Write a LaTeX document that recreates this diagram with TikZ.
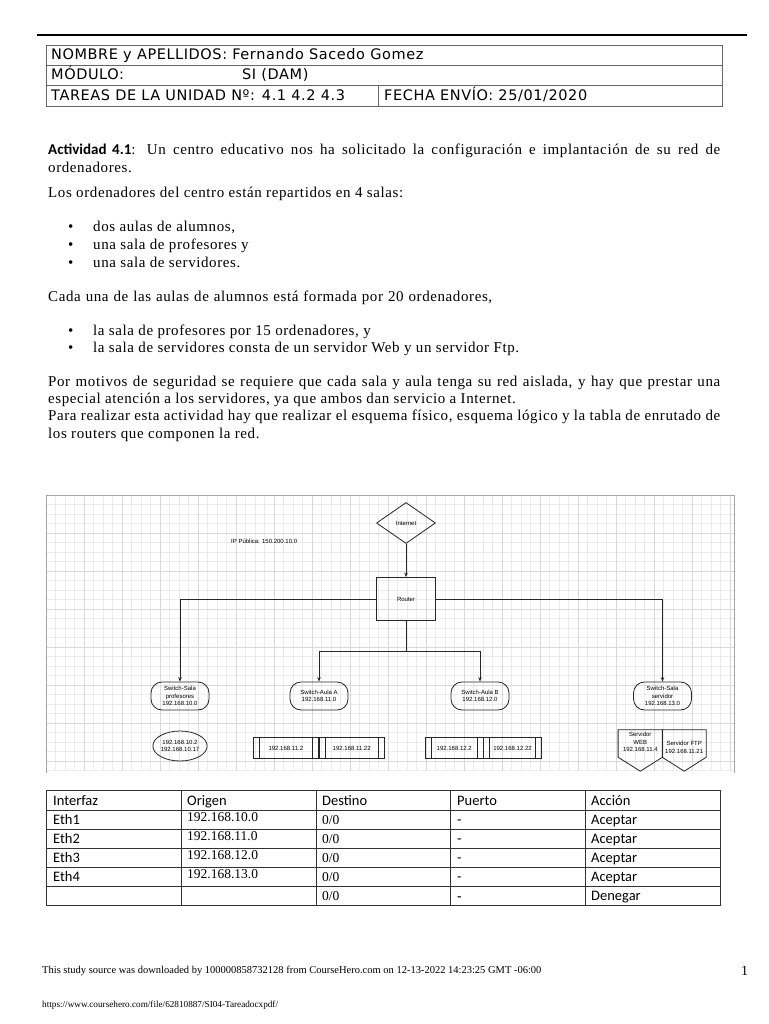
\documentclass[tikz,border=0pt]{standalone}
\usepackage{fontspec}
\setmainfont{Liberation Serif}
\newfontfamily\bodyfont[LetterSpace=4]{Liberation Serif}
\newfontfamily\hdrfont[LetterSpace=4]{DejaVu Sans}
\newfontfamily\calfont{Carlito}
\newfontfamily\arlfont{Liberation Sans}
\usetikzlibrary{shapes.geometric,arrows.meta}
\newcommand{\jline}[1]{\makebox[672pt][s]{#1}}
\tikzset{
  bodytxt/.style={anchor=base west, inner sep=0, font=\bodyfont\fontsize{15}{17}\selectfont},
  hdrtxt/.style={anchor=base west, inner sep=0, font=\hdrfont\fontsize{14.5}{16}\selectfont},
  hdrline/.style={draw=gray!80!black, line width=0.7pt},
  gridminor/.style={draw=gray!15, line width=0.4pt},
  gridmajor/.style={draw=gray!30, line width=0.5pt},
  dtxt/.style={font=\arlfont\fontsize{6}{7.4}\selectfont, align=center, inner sep=0},
  conn/.style={draw=black!85, line width=0.8pt},
  arr/.style={conn, -{Stealth[length=4.5pt,width=3.5pt]}},
  swbox/.style={draw=black!85, line width=0.8pt, rounded corners=11pt, minimum width=58pt, minimum height=28pt, dtxt},
  procbox/.style={draw=black!85, line width=0.8pt, minimum width=65pt, minimum height=21pt, dtxt,
    path picture={\draw[black!85, line width=0.7pt]
      ([xshift=6pt]path picture bounding box.north west) -- ([xshift=6pt]path picture bounding box.south west)
      ([xshift=-6pt]path picture bounding box.north east) -- ([xshift=-6pt]path picture bounding box.south east);}},
  tbl/.style={draw=black!80, line width=0.7pt},
  thtxt/.style={anchor=base west, inner sep=0, font=\calfont\fontsize{14.5}{16}\selectfont},
  tdcal/.style={anchor=base west, inner sep=0, font=\calfont\fontsize{14.5}{16}\selectfont},
  tdser/.style={anchor=base west, inner sep=0, font=\fontsize{13.5}{15}\selectfont},
  foot/.style={anchor=base west, inner sep=0, font=\fontsize{10.5}{12}\selectfont},
}
\begin{document}
\begin{tikzpicture}[x=1pt,y=-1pt]
\useasboundingbox (0,0) rectangle (768,1024);
\fill[white] (0,0) rectangle (768,1024);

% top rule
\draw[line width=1.3pt] (37,35) -- (747,35);

% header table
\draw[hdrline] (46,45) rectangle (722,106);
\draw[hdrline] (46,65) -- (722,65);
\draw[hdrline] (46,85) -- (722,85);
\draw[hdrline] (378,85) -- (378,106);
\node[hdrtxt] (h1) at (51,60) {NOMBRE y APELLIDOS: Fernando Sacedo Gomez};
\node[hdrtxt] (h2) at (51,80) {MÓDULO:};
\node[hdrtxt] (h2b) at (242,80) {SI (DAM)};
\node[hdrtxt] (h3) at (51,101) {TAREAS DE LA UNIDAD Nº: 4.1 4.2 4.3};
\node[hdrtxt] (h3b) at (384,101) {FECHA ENVÍO: 25/01/2020};

% body text
\node[bodytxt] (t1) at (48,155) {\jline{{\calfont\bfseries Actividad 4.1}: Un centro educativo nos ha solicitado la configuración e implantación de su red de}};
\node[bodytxt] (t2) at (48,173) {ordenadores.};
\node[bodytxt] (t3) at (48,198) {Los ordenadores del centro están repartidos en 4 salas:};
\node[bodytxt] (b1) at (68,232) {•};
\node[bodytxt] (t4) at (93,232) {dos aulas de alumnos,};
\node[bodytxt] (b2) at (68,249) {•};
\node[bodytxt] (t5) at (93,249) {una sala de profesores y};
\node[bodytxt] (b3) at (68,267) {•};
\node[bodytxt] (t6) at (93,267) {una sala de servidores.};
\node[bodytxt] (t7) at (48,301) {\makebox[444pt][s]{Cada una de las aulas de alumnos está formada por 20 ordenadores,}};
\node[bodytxt] (b4) at (68,335) {•};
\node[bodytxt] (t8) at (93,335) {la sala de profesores por 15 ordenadores, y};
\node[bodytxt] (b5) at (68,352) {•};
\node[bodytxt] (t9) at (93,352) {la sala de servidores consta de un servidor Web y un servidor Ftp.};
\node[bodytxt] (t10) at (48,386) {\jline{Por motivos de seguridad se requiere que cada sala y aula tenga su red aislada, y hay que prestar una}};
\node[bodytxt] (t11) at (48,403) {especial atención a los servidores, ya que ambos dan servicio a Internet.};
\node[bodytxt] (t12) at (48,420) {\jline{Para realizar esta actividad hay que realizar el esquema físico, esquema lógico y la tabla de enrutado de}};
\node[bodytxt] (t13) at (48,438) {los routers que componen la red.};

% diagram grid
\foreach \i in {0,...,72} {
  \pgfmathsetmacro{\xx}{46+\i*9.5}
  \draw[gridminor] (\xx,495) -- (\xx,771);
}
\foreach \j in {0,...,29} {
  \pgfmathsetmacro{\yy}{495+\j*9.5}
  \draw[gridminor] (46,\yy) -- (734,\yy);
}
\foreach \i in {0,...,18} {
  \pgfmathsetmacro{\xx}{46+\i*38}
  \draw[gridmajor] (\xx,495) -- (\xx,771);
}
\foreach \j in {0,...,7} {
  \pgfmathsetmacro{\yy}{495+\j*38}
  \draw[gridmajor] (46,\yy) -- (734,\yy);
}
\draw[gray!70, line width=1pt] (46,773) -- (46,495) -- (734,495) -- (734,773);

% diagram nodes
\node[diamond, draw=black!85, line width=0.8pt, minimum width=59pt, minimum height=41pt, inner sep=0, dtxt] (inet) at (406,523) {Internet};
\node[dtxt, anchor=west] (ip) at (231,541) {IP Pública: 150.200.10.0};
\node[draw=black!85, line width=0.8pt, minimum width=59pt, minimum height=43pt, inner sep=0, dtxt] (router) at (406,599) {Router};

\node[swbox] (swp) at (180,696) {Switch-Sala\\profesores\\192.168.10.0};
\node[swbox] (swa) at (319,696) {Switch-Aula A\\192.168.11.0};
\node[swbox] (swb) at (480,696) {Switch-Aula B\\192.168.12.0};
\node[swbox] (sws) at (662.5,696) {Switch-Sala\\servidor\\192.168.13.0};

\coordinate (junc) at (406,651);
\draw[arr] (inet.south) -- (router.north);
\draw[arr] (router.west) -| (swp.north);
\draw[arr] (router.east) -| (sws.north);
\draw[conn] (router.south) -- (junc);
\draw[arr] (junc) -| (swa.north);
\draw[arr] (junc) -| (swb.north);

% bottom row
\node[ellipse, draw=black!85, line width=0.8pt, minimum width=50pt, minimum height=30pt, inner sep=0, dtxt] (pcp) at (180,746) {192.168.10.2\\192.168.10.17};
\node[procbox] (pa1) at (285.8,748) {192.168.11.2};
\node[procbox] (pa2) at (351.7,748) {192.168.11.22};
\node[procbox, minimum width=58.3pt] (pb1) at (454.2,748) {192.168.12.2};
\node[procbox, minimum width=58.3pt] (pb2) at (512.5,748) {192.168.12.22};

\node[minimum width=44pt, minimum height=27pt, inner sep=0] (web) at (640.3,743.5) {};
\node[minimum width=43.7pt, minimum height=27pt, inner sep=0] (ftp) at (684.2,743.5) {};
\draw[black!85, line width=0.8pt] (web.north west) -- (web.north east) -- (web.south east) -- ([yshift=-14pt]web.south) -- (web.south west) -- cycle;
\draw[black!85, line width=0.8pt] (ftp.north west) -- (ftp.north east) -- (ftp.south east) -- ([yshift=-14pt]ftp.south) -- (ftp.south west) -- cycle;
\node[dtxt] (webt) at (640.3,742) {Servidor\\WEB\\192.168.11.4};
\node[dtxt] (ftpt) at (684.2,747.5) {Servidor FTP\\192.168.11.21};

% filter table
\draw[tbl] (46.5,790) rectangle (720,905);
\foreach \yy in {810,829,848,867,886} { \draw[tbl] (46.5,\yy) -- (720,\yy); }
\foreach \xx in {181,316,450,585} { \draw[tbl] (\xx,790) -- (\xx,905); }
\node[thtxt] (c1) at (53,805) {Interfaz};
\node[thtxt] (c2) at (187,805) {Origen};
\node[thtxt] (c3) at (322,805) {Destino};
\node[thtxt] (c4) at (457,805) {Puerto};
\node[thtxt] (c5) at (591,805) {Acción};
\foreach \r/\yy/\ip in {1/824.5/10, 2/843.5/11, 3/862.5/12, 4/881.5/13} {
  \node[tdcal] (e\r) at (53,\yy) {Eth\r};
  \node[tdser] (o\r) at (187,\yy-3) {192.168.\ip.0};
  \node[tdser] (d\r) at (322,\yy) {0/0};
  \node[tdcal] (p\r) at (457,\yy) {-};
  \node[tdcal] (a\r) at (591,\yy) {Aceptar};
}
\node[tdser] (d5) at (322,900.5) {0/0};
\node[tdser] (p5) at (457,900.5) {\bfseries -};
\node[tdcal] (a5) at (591,900.5) {Denegar};

% footer
\node[foot] (f1) at (42,973) {This study source was downloaded by 100000858732128 from CourseHero.com on 12-13-2022 14:23:25 GMT -06:00};
\node[anchor=base west, inner sep=0, font=\fontsize{14}{16}\selectfont] (pg) at (741,975) {1};
\node[anchor=base west, inner sep=0, font=\fontsize{9.2}{11}\selectfont] (f2) at (42,1007) {https://www.coursehero.com/file/62810887/SI04-Tareadocxpdf/};
\end{tikzpicture}
\end{document}
